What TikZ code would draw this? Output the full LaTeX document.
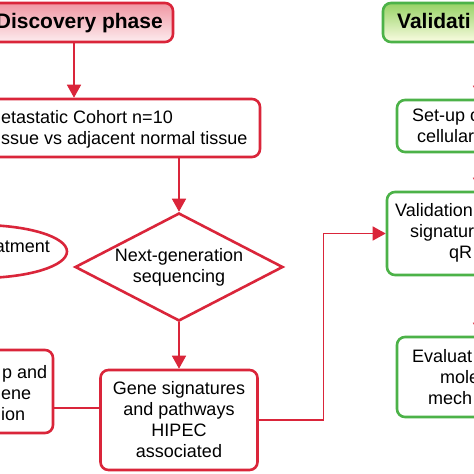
\documentclass[tikz,border=0pt]{standalone}
\usepackage{fontspec}
\setmainfont{Liberation Sans}
\usetikzlibrary{shapes.geometric,arrows.meta,calc}
\definecolor{redc}{RGB}{218,37,58}
\definecolor{greenc}{RGB}{76,178,72}
\definecolor{pinktop}{RGB}{240,150,162}
\definecolor{pinkbot}{RGB}{253,236,239}
\definecolor{greentop}{RGB}{150,210,100}
\definecolor{greenbot}{RGB}{250,252,226}
\tikzset{
  body/.style={font=\fontsize{18}{21}\selectfont, inner sep=0pt},
  headtxt/.style={font=\fontsize{21}{25}\selectfont\bfseries, inner sep=0pt},
  redbox/.style={draw=redc, line width=2.6pt, rounded corners=8pt, fill=white, inner sep=0pt},
  greenbox/.style={draw=greenc, line width=2.6pt, rounded corners=8pt, fill=white, inner sep=0pt},
  redhead/.style={redbox, top color=pinktop, bottom color=pinkbot},
  greenhead/.style={greenbox, top color=greentop, bottom color=greenbot},
  arr/.style={draw=redc, line width=1.5pt, -{Triangle[length=13pt,width=14pt]}},
  plainline/.style={draw=redc, line width=1.5pt},
}
\begin{document}
\begin{tikzpicture}[x=1pt,y=-1pt]
\path[fill=white,use as bounding box] (0,0) rectangle (474,474);

% red column
\node[redhead, minimum width=198pt, minimum height=39pt] (disc) at (74,22.5) {};
\node[headtxt, anchor=base east] (disctxt) at (163,28.5) {Discovery phase};

\node[redbox, minimum width=290pt, minimum height=58pt] (cohort) at (115,128) {};
\node[body, anchor=west, align=left] (cohorttxt) at (1,129) {etastatic Cohort n=10\\ssue vs adjacent normal tissue};

\node[draw=redc, line width=2.6pt, fill=white, shape=diamond, aspect=1.93, minimum width=208pt, minimum height=108pt, body, align=center] (ngs) at (179,267) {Next-generation\\sequencing};

\node[redbox, minimum width=157pt, minimum height=100pt, body, align=center] (gene) at (179,420) {Gene signatures\\and pathways\\HIPEC\\associated};

\node[draw=redc, line width=2.6pt, fill=white, shape=ellipse, minimum width=174pt, minimum height=53pt] (treat) at (-20,251.5) {};
\node[body, anchor=east] (treattxt) at (50,247) {atment};

\node[redbox, minimum width=83pt, minimum height=83pt] (lbox) at (11.5,391.5) {};
\node[body, anchor=west, align=left] (lboxtxt) at (1,393) {\hspace*{1pt}p and\\ene\\ion};

% green column
\node[greenhead, minimum width=194pt, minimum height=39pt] (vph) at (480,22.5) {};
\node[headtxt, anchor=base west] (vphtxt) at (397,28.5) {Validati};

\node[greenbox, minimum width=166pt, minimum height=52pt] (setup) at (480,126) {};
\node[body, anchor=west, align=left] (setuptxt) at (412,126) {Set-up o\\\hspace*{5pt}cellular};

\node[greenbox, minimum width=186pt, minimum height=83pt] (valid) at (480,233.5) {};
\node[body, anchor=west, align=left] (validtxt) at (395,233) {Validation\\\hspace*{15pt}signatur\\\hspace*{54pt}qR};

\node[greenbox, minimum width=166pt, minimum height=80pt] (eval) at (480,377) {};
\node[body, anchor=west, align=left] (evaltxt) at (412,377) {Evaluat\\\hspace*{28pt}mole\\\hspace*{16pt}mech};

% connectors
\draw[arr] (disc.south) -- (disc.south |- cohort.north);
\draw[arr] (ngs.north |- cohort.south) -- (ngs.north);
\draw[arr] (ngs.south) -- (gene.north);
\coordinate (gw) at ($(gene.west)+(0,-12)$);
\draw[plainline] (gw) -- (gw -| lbox.east);
\coordinate (bend) at ($(gene.east)+(65,0)$);
\draw[arr, line width=1.3pt] (gene.east) -- (bend) |- (valid.west);
\draw[arr] (vph.south) -- (setup.north);
\draw[arr] (setup.south) -- (valid.north);
\draw[arr] (valid.south) -- (eval.north);
\end{tikzpicture}
\end{document}
